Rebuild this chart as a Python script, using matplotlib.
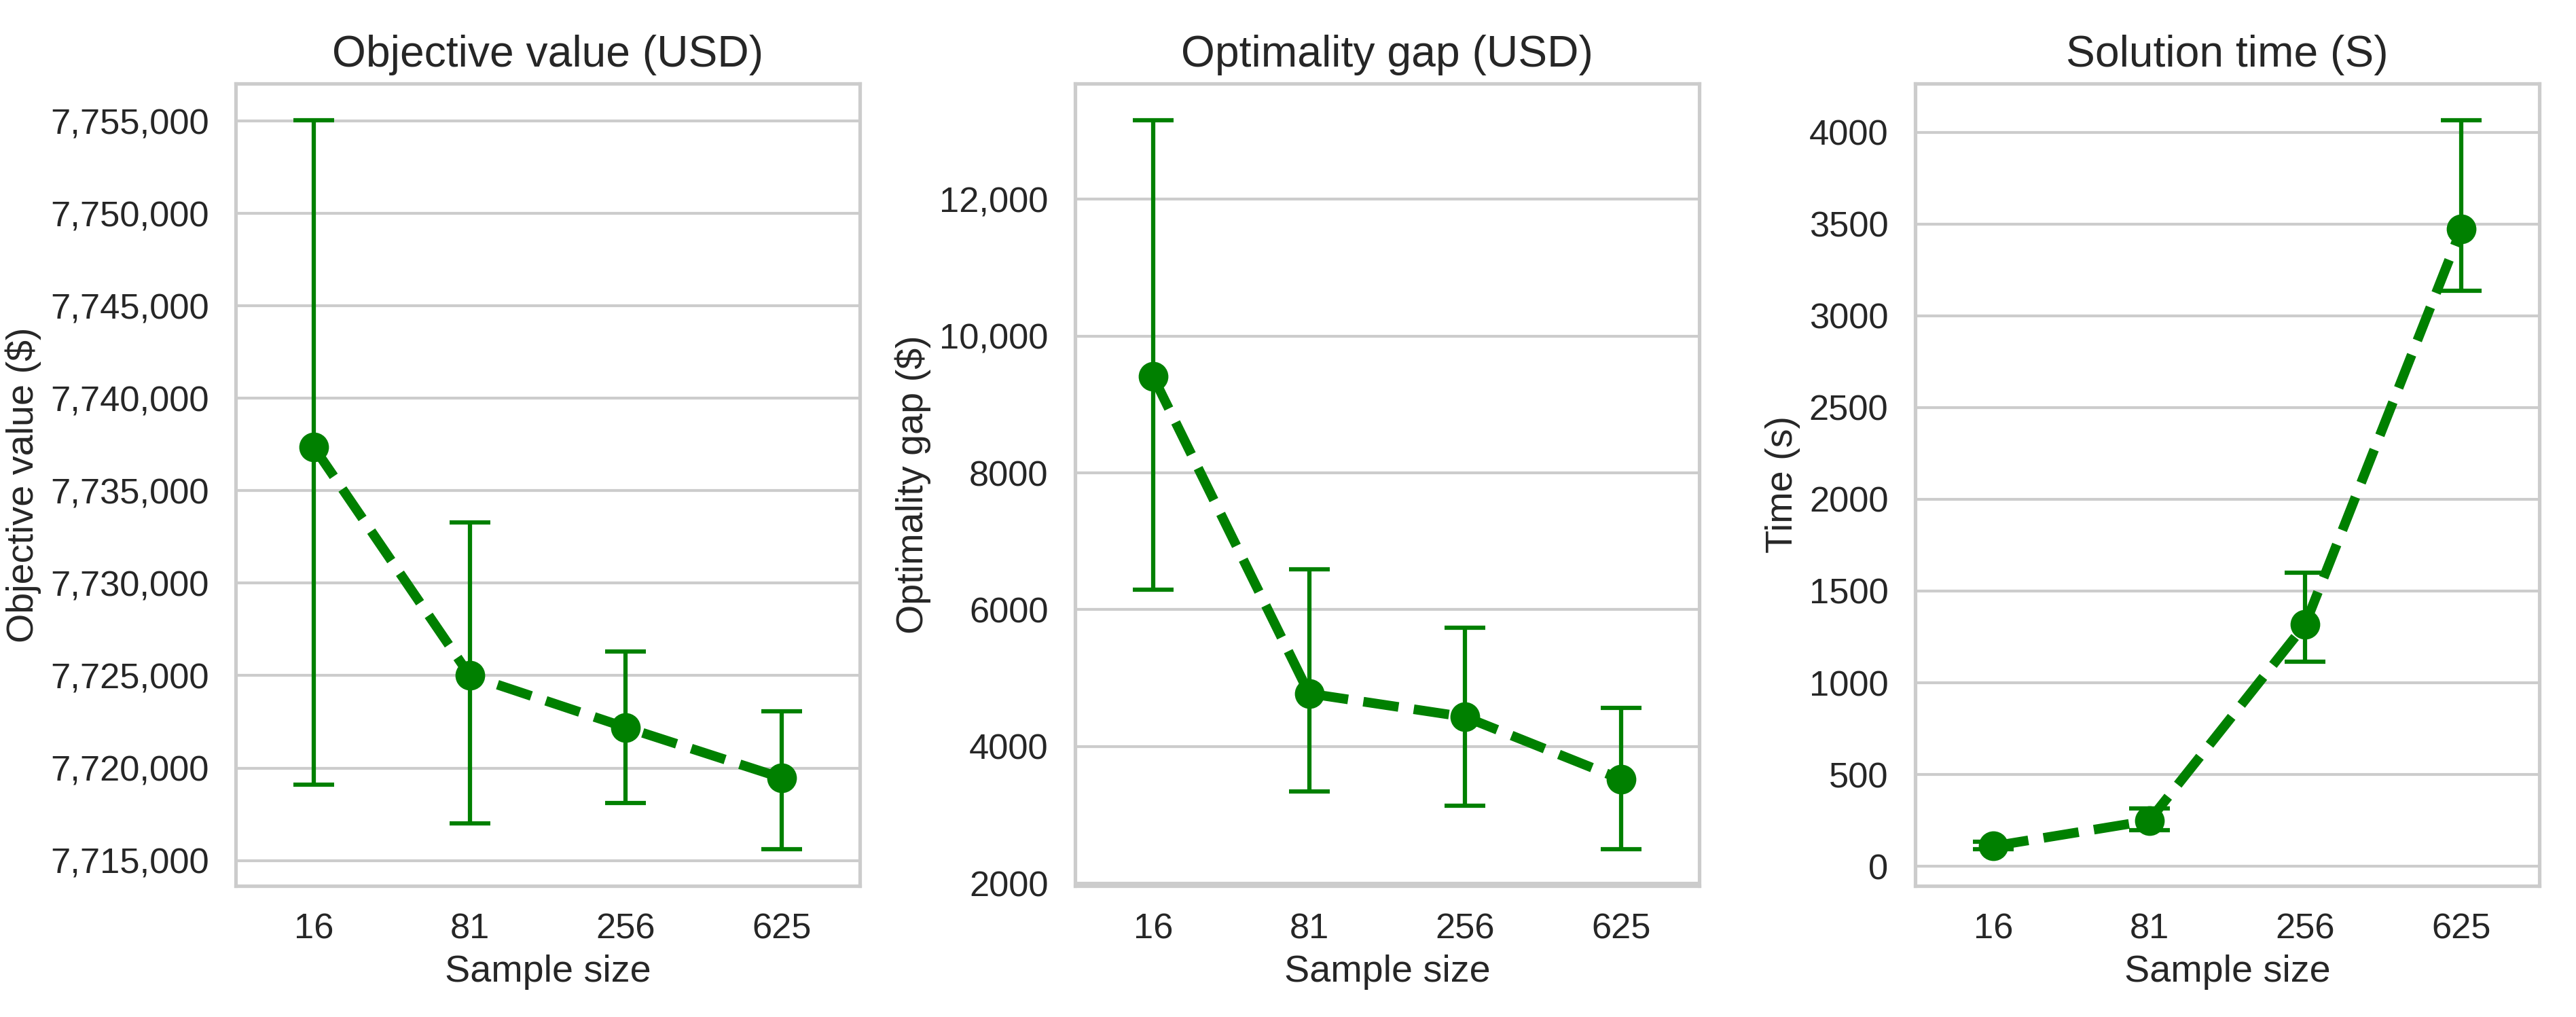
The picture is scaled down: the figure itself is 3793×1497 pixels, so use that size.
import numpy as np
import matplotlib
matplotlib.use("Agg")
import matplotlib.pyplot as plt
import seaborn as sns
from matplotlib.ticker import FuncFormatter

sample_sizes = ["16", "81", "256", "625"]

obj_mean = [7737370, 7725010, 7722200, 7719470]
obj_lo = [7719120, 7717010, 7718100, 7715600]
obj_hi = [7755050, 7733300, 7726310, 7723080]

gap_mean = [9407, 4773, 4431, 3519]
gap_lo = [6292, 3339, 3130, 2494]
gap_hi = [13159, 6587, 5732, 4564]

time_mean = [110, 249, 1319, 3472]
time_lo = [92, 196, 1114, 3136]
time_hi = [133, 317, 1598, 4066]

sns.set_theme(style="whitegrid", font_scale=1.2)
plt.rcParams['font.family'] = ['Liberation Sans', 'DejaVu Sans']
plt.rcParams['xtick.labelsize'] = 12.6
plt.rcParams['ytick.labelsize'] = 12.6
plt.rcParams['axes.labelsize'] = 13.4
plt.rcParams['axes.titlesize'] = 15.4


def fmt(v, pos):
    # comma only from 10,000 up, like the original
    if abs(v) >= 10000:
        return "{:,.0f}".format(v)
    return "{:.0f}".format(v)


panels = [
    ("Objective value (USD)", "Objective value ($)", obj_mean, obj_lo, obj_hi),
    ("Optimality gap (USD)", "Optimality gap ($)", gap_mean, gap_lo, gap_hi),
    ("Solution time (S)", "Time (s)", time_mean, time_lo, time_hi),
]

fig = plt.figure(figsize=(3793 / 300, 1497 / 300), dpi=300)
lefts = [347 / 3793, 1583 / 3793, 2820 / 3793]
w = 919 / 3793
b = 193 / 1497
h = 1181 / 1497

x = np.arange(len(sample_sizes))
for left, (title, ylab, m, lo, hi) in zip(lefts, panels):
    ax = fig.add_axes([left, b, w, h])
    m = np.array(m)
    yerr = [m - np.array(lo), np.array(hi) - m]
    ax.errorbar(x, m, yerr=yerr, fmt="none", ecolor="green", elinewidth=1.5,
                capsize=7.2, capthick=1.5, zorder=2)
    ax.plot(x, m, color="green", linestyle="--", linewidth=3.4, zorder=3)
    ax.plot(x, m, "o", color="green", markersize=10.5, markeredgewidth=0, zorder=4)
    ax.set_xticks(x)
    ax.set_xticklabels(sample_sizes)
    ax.set_xlim(-0.5, 3.5)
    ax.set_title(title, pad=6)
    ax.set_xlabel("Sample size", labelpad=3)
    ax.set_ylabel(ylab, labelpad=3)
    ax.yaxis.set_major_formatter(FuncFormatter(fmt))
    ax.xaxis.grid(False)

plt.savefig("out.png", dpi=300)
